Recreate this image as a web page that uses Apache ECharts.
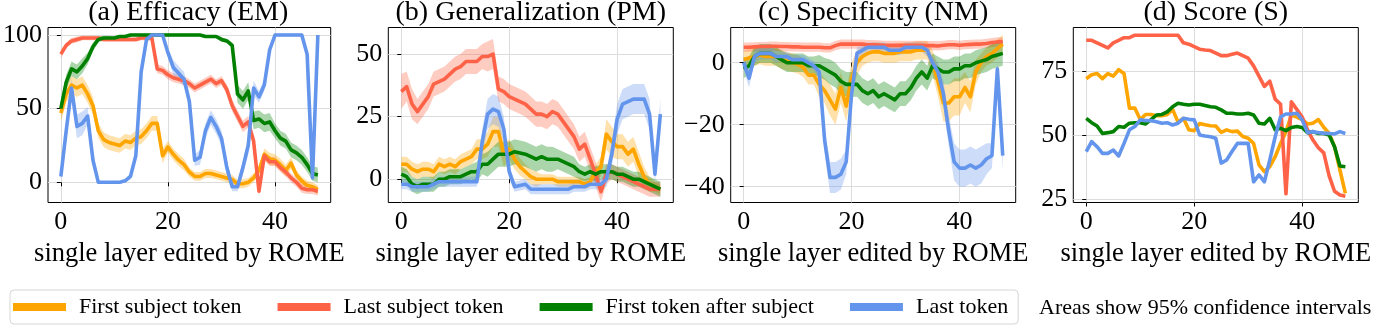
<!DOCTYPE html>
<html><head><meta charset="utf-8">
<script src="https://cdn.jsdelivr.net/npm/echarts@6/dist/echarts.min.js"></script>
<style>html,body{margin:0;padding:0;background:#fff}#c{width:1376px;height:328px}</style>
</head><body><div id="c"></div>
<script>
// ---- data ----
const layers = [0,1,2,3,4,5,6,7,8,9,10,11,12,13,14,15,16,17,18,19,20,21,22,23,24,25,26,27,28,29,30,31,32,33,34,35,36,37,38,39,40,41,42,43,44,45,46,47,48];
const seriesNames = ['First subject token','Last subject token','First token after subject','Last token'];
const panelTitles = ['(a) Efficacy (EM)','(b) Generalization (PM)','(c) Specificity (NM)','(d) Score (S)'];
const xTicks = [0,20,40];
const yTicksA = [0,50,100];
const yTicksB = [0,25,50];
const yTicksC = [-40,-20,0];
const yTicksD = [25,50,75];

// (a) Efficacy
const effOrange = [47,60,66,64,66,60,52,35,29,27,26,25,28,27,30,31,35,40,40,18,24,19,15,12,7,4,4,6,6,5,4,3,2,-1,-1,0,3,8,19,16,15,12,8,13,5,1,-2,-3,-5];
const effRed    = [87,93,96,97,98,98,98,98,97,97,97,97,97,97,97,98,98,98,77,76,73,71,70,69,67,64,66,68,70,67,69,63,52,45,38,41,28,-6,18,14,14,10,7,3,0,-4,-5,-5,-6];
const effGreen  = [50,68,77,75,79,84,92,97,98,98,98,99,99,100,100,100,100,100,100,100,100,100,100,100,100,100,100,99,99,99,97,96,93,60,56,62,42,43,40,41,35,30,28,22,20,17,12,6,5];
const effBlue   = [4,35,64,38,40,45,15,0,0,0,0,0,1,4,18,75,97,100,100,100,88,78,74,70,55,15,17,35,44,38,30,10,-3,-3,10,25,64,58,66,90,100,100,100,100,100,100,87,3,100];
const effOrangeCI = [6,6,6,6,6,6,6,5,5,5,5,5,5,5,5,5,5,5,5,5,4,4,4,4,3,3,3,3,3,3,3,3,3,3,3,3,3,3,4,4,4,4,4,4,3,3,3,3,3];
const effRedCI    = [3,2,2,2,1.5,1.5,1.5,1.5,1.5,1.5,1.5,1.5,1.5,1.5,1.5,1.5,1.5,2,3,3,3,3,3,3,3,3,3,3,3,3,3,3.5,4,4,4,4,4,3,3,3,3,3,3,3,3,3,3,3,3];
const effGreenCI  = [5,5,5,5,5,4,3,2,1.5,1.5,1,1,1,1,1,1,1,1,1,1,1,1,1,1,1,1,1,1,1,1,1.5,1.5,2,6,6,6,6,6,6,6,5,5,5,5,5,5,5,5,5];
const effBlueCI   = [3,5,6,8,8,6,4,1,0.5,0.5,0.5,0.5,1,2,4,5,3,1,1,1,3,5,5,5,5,4,5,5,5,5,5,5,3,3,5,6,5,4,4,3,1,1,1,1,1,1,3,2,1];

// (b) Generalization
const genOrange = [6,6,4,3,4,4,3,6,5,6,5,7,8,9,12,12,14,19,19,10,12,8,5,3,1,0,0,0,0,-1,-1,-1,-1,-1,-2,-1,3,5,18,15,13,13,10,12,6,1,-2,-3,-4];
const genRed    = [35,37,30,27,30,33,38,39,40,42,44,45,47,47,47,49,49,50,36,35,33,32,31,30,28,26,26,25,27,26,23,20,17,12,14,8,2,-5,2,3,2,1,0,-1,-2,-3,-4,-4,-4];
const genGreen  = [2,1,-2,-3,-2,-2,-2,0,0,1,1,1,2,3,3,6,6,8,10,10,10,11,10.5,10,9,8,9,8,8,8,7,6,5,3,2,3,2,3,3,3,2,2,1,0,0,-1,-2,-3,-4];
const genBlue   = [-2,-2,-3,-3,-3,-3,-2,-1,-1,-1,-1,-1,-1,-1,-1,15,26,28,27,20,3,-3,-2.5,-2,-4,-4,-4,-4,-4,-4,-4,-4,-3,-3,-3,-2,-2,-2,0,10,24,30,31,32,32,32,26,2,26];
const genOrangeCI = [3,3,3,3,3,3,3,3,3,3,3,3,3,3,4,4,5,6,6,5,4,4,3.5,3,3,3,2,2,2,2,2,2,2,2,2,2,3,4,6,6,5,5,5,5,5,4,3,2,2];
const genRedCI    = [7,6,6,5,5,5,5,5,5,5,5,5,5,5,5,5,6,6,5,5,5,5,5,5,5,5,5,5,5,5,5,5,5,5,5,5,5,4,4,3,3,3,3,3,3,3,3,3,3];
const genGreenCI  = [3,3,3,3,3,3,3,3,3,3,3,3,3,3,4,4,5,5,5,5,5,5,5,5,5,5,5,5,5,4,4,4,4,3,3,3,3,3,3,3,3,3,3,3,3,3,3,3,3];
const genBlueCI   = [2,2,2,2,2,2,2,2,2,2,2,2,2,2,2,5,6,6,6,5,3,2,2,2,2,2,2,2,2,2,2,2,2,2,2,2,2,2,3,5,6,6,6,6,6,6,6,3,6];

// (c) Specificity
const specOrange = [1,1.5,2,2.5,2,2,2,1,0.5,0,-0.5,-1.5,-4,-4,-7,-9,-12,-15,-8,-14,-5,0,2,3,3.5,3.5,3,3,3,3.5,3.5,3.5,4,4,4,0,-6,-13,-13,-11,-11,-8,-11,-3,0,2,3,4.5,6];
const specRed    = [5.0,5.0,5.1,5.2,5.2,5.3,5.3,5.2,5.2,5.1,5.1,5.0,5.0,5.0,5.0,4.8,4.8,5.5,6.0,6.0,6.0,6.0,6.0,5.8,5.8,5.7,5.6,5.6,5.6,5.6,5.6,5.6,5.6,5.6,5.5,5.5,5.4,5.6,5.8,5.8,5.6,5.8,5.9,6.0,6.0,6.2,6.5,6.7,6.8];
const specGreen  = [-2,-1,2,3,3,3,2,1,0,0,0,0,-1,-1,-1,-2,-3,-4,-6,-7,-7,-7,-9,-10,-9,-11,-10,-11,-12,-10,-10,-8,-5,-3,-5,-1,-2,-3,-3,-2,-2,-1,-1,0,0.5,1,2,2.5,3];
const specBlue   = [0,-5,2,3,3,3,2,2,2,1,1,1,0,-1,-3,-25,-37,-37,-36,-32,-10,3,4,5,5,5,5,4,4,4,5,5,5,5,4,0,-3,-10,-22,-32,-34,-34,-33,-34,-33,-31,-30,-2,-30];
const specOrangeCI = [3,3,3,3,3,3,3,3,3,3,3,3,3,3,4,4,5,5,5,5,5,4,3,3,3,3,3,3,3,3,3,3,3,3,3,4,5,6,6,6,6,5,5,4,3,3,3,3,3];
const specRedCI    = [1.5,1.5,1.5,1.5,1.5,1.5,1.5,1.5,1.5,1.5,1.5,1.5,1.5,1.5,1.5,1.5,1.5,1.5,1.5,1.5,1.5,1.5,1.5,1.5,1.5,1.5,1.5,1.5,1.5,1.5,1.5,1.5,1.5,1.5,1.5,1.5,1.5,1.5,1.5,1.5,1.5,1.5,1.5,1.5,1.5,1.5,1.5,1.5,1.5];
const specGreenCI  = [3,3,3,3,3,3,3,3,3,3,3,3,3,3,3.5,3.5,4,4,4,4,4,4,4,4,4,4,4,4,4,4,4,4,4,4,4,4,4,4,4,4,4,4,4,4,4,4,4,4,4];
const specBlueCI   = [2,3,2,2,2,2,2,1.5,1.5,1.5,1.5,1.5,1.5,1.5,2,4,5,5,5,4,3,2,1.5,1.5,1.5,1.5,1.5,1.5,1.5,1.5,1.5,1.5,1.5,1.5,2,2,3,4,5,6,6,6,6,6,6,5,4,2,5];

// (d) Score
const scoreOrange = [72,73.5,74,72,74,73,75.5,74,60.5,60.5,56,58,58,57.5,57.5,58,60,55,56.5,52,51.7,54.5,54,53.6,53.5,51,52,51.3,51.5,49.4,48.7,46.7,38.3,35.7,37.6,41.5,46.7,51.3,57.8,57,56,54.3,54.6,56,53,50.6,45.4,36.3,27.2];
const scoreRed    = [87,87,86,85,84,86,87,88,88,89,89,89,89,89,89,89,89,89,86,85.5,84.5,83.5,83.2,83,82,81,81,81.5,82,81,80,77,73,69,71,64,62,27,63,60,57,52,48,45,43,34,28,26.5,26];
const scoreGreen  = [56.5,54.8,53.5,50.6,50.9,51.3,53.3,53,54.6,54.8,54.8,54.3,56,57.8,58,59,61,62.4,62,61.7,62,62,61.5,61,60.8,59.8,58.5,58.5,58.2,58.2,58.5,57.8,54.6,54.3,56.5,52,52.6,51.7,52.9,53.3,52.9,50.9,51.3,50.6,50.6,50,45.4,37.9,37.6];
const scoreBlue   = [43.5,47.4,45.4,42.8,42.8,44.1,41.8,46.7,52,53.3,55.9,55.6,55.6,55.2,54.6,54.8,53.9,54.6,56.5,56.1,55.9,50,49.6,49.3,48.7,39,40.2,43.5,46.7,46.7,46.7,31.7,34.4,31.7,40.2,49.3,57.1,58.2,58.2,58.5,55.9,50.9,51.3,50.9,50.6,50.6,50.4,51.3,50.6];

// ---- styling / layout ----
const FONT = '"Liberation Serif","Times New Roman",serif';
const COLORS = ['#FFA500','#FF6347','#008000','#6495ED'];
const GRID_LEFT = [45.7, 388.3, 730.7, 1073.3];
const GRID_TOP = 27.5, GRID_W = 285, GRID_H = 175;
const X_RANGE = [-2.4, 50.4];

const panels = [
  {vals:[effOrange,effRed,effGreen,effBlue], ci:[effOrangeCI,effRedCI,effGreenCI,effBlueCI], y:[-13.7,105.1], ticks:yTicksA},
  {vals:[genOrange,genRed,genGreen,genBlue], ci:[genOrangeCI,genRedCI,genGreenCI,genBlueCI], y:[-9.3,60.6], ticks:yTicksB},
  {vals:[specOrange,specRed,specGreen,specBlue], ci:[specOrangeCI,specRedCI,specGreenCI,specBlueCI], y:[-45.1,11.35], ticks:yTicksC},
  {vals:[scoreOrange,scoreRed,scoreGreen,scoreBlue], ci:null, y:[23.6,92.0], ticks:yTicksD}
];

const fmtNum = v => String(v).replace('-', '\u2212');
const tickStyle = {fontFamily: FONT, fontSize: 26, color: '#000'};

function bandRenderer(color, rows) {
  return function (params, api) {
    if (params.dataIndex !== 0) return null;
    const up = [], lo = [];
    for (let j = 0; j < rows.length; j++) {
      up.push(api.coord([rows[j][0], rows[j][2]]));
      lo.push(api.coord([rows[j][0], rows[j][1]]));
    }
    return {type: 'polygon', shape: {points: up.concat(lo.reverse())},
      style: {fill: color, opacity: 0.33}, silent: true};
  };
}

const grid = [], xAxis = [], yAxis = [], series = [], graphic = [];
panels.forEach((p, i) => {
  grid.push({left: GRID_LEFT[i], top: GRID_TOP, width: GRID_W, height: GRID_H, show: true,
    borderColor: '#000', borderWidth: 1, backgroundColor: 'transparent', containLabel: false});
  xAxis.push({type: 'value', gridIndex: i, min: X_RANGE[0], max: X_RANGE[1],
    splitNumber: 3, minInterval: 20, maxInterval: 20,
    axisLine: {show: false},
    axisTick: {show: true, length: 4, lineStyle: {color: '#000', width: 1}, customValues: xTicks},
    axisLabel: Object.assign({margin: 7, customValues: xTicks,
      formatter: v => (xTicks.indexOf(v) >= 0 ? fmtNum(v) : '')}, tickStyle),
    splitLine: {show: true, lineStyle: {color: '#dcdcdc', width: 1}},
    name: 'single layer edited by ROME', nameLocation: 'middle', nameGap: 33,
    nameTextStyle: {fontFamily: FONT, fontSize: 26.5, color: '#000'}
  });
  yAxis.push({type: 'value', gridIndex: i, min: p.y[0], max: p.y[1],
    axisLine: {show: false},
    axisTick: {show: true, length: 4, lineStyle: {color: '#000', width: 1}, customValues: p.ticks},
    axisLabel: Object.assign({margin: 6, customValues: p.ticks,
      formatter: v => (p.ticks.indexOf(v) >= 0 ? fmtNum(v) : '')}, tickStyle),
    splitLine: {show: true, lineStyle: {color: '#dcdcdc', width: 1}}
  });
  if (p.ci) {
    p.vals.forEach((vals, k) => {
      const ci = p.ci[k];
      const rows = layers.map((x, j) => [x, vals[j] - ci[j], vals[j] + ci[j]]);
      series.push({type: 'custom', name: 'ci-' + i + '-' + k, xAxisIndex: i, yAxisIndex: i,
        silent: true, z: 1, clip: true, encode: {x: 0, y: [1, 2]},
        renderItem: bandRenderer(COLORS[k], rows), data: rows});
    });
  }
  p.vals.forEach((vals, k) => {
    series.push({type: 'line', name: seriesNames[k], xAxisIndex: i, yAxisIndex: i,
      symbol: 'none', showSymbol: false, silent: true, z: 3 + k,
      color: COLORS[k], itemStyle: {color: COLORS[k]},
      lineStyle: {color: COLORS[k], width: 3.6, join: 'round', cap: 'butt'},
      data: layers.map((x, j) => [x, vals[j]])});
  });
  graphic.push({type: 'text', x: GRID_LEFT[i] + GRID_W / 2, y: 13, silent: true,
    style: {text: panelTitles[i], fontFamily: FONT, fontSize: 28, fill: '#000',
      align: 'center', verticalAlign: 'middle', textAlign: 'center', textVerticalAlign: 'middle'}});
});

graphic.push({type: 'text', x: 1039, y: 308, silent: true,
  style: {text: 'Areas show 95% confidence intervals', fontFamily: FONT, fontSize: 22, fill: '#000',
    align: 'left', verticalAlign: 'middle', textAlign: 'left', textVerticalAlign: 'middle'}});

const chart = echarts.init(document.getElementById('c'), null, {renderer: 'canvas', width: 1376, height: 328});
chart.setOption({
  animation: false,
  backgroundColor: '#fff',
  grid, xAxis, yAxis, series, graphic,
  legend: {
    data: seriesNames, left: 10, top: 290, orient: 'horizontal', selectedMode: false,
    icon: 'rect', itemWidth: 53, itemHeight: 8, itemGap: 36,
    padding: [6, 10, 6, 3], borderColor: '#d6d6d6', borderWidth: 1, borderRadius: 4,
    backgroundColor: '#fff',
    textStyle: {fontFamily: FONT, fontSize: 22, color: '#000', padding: [0, 0, 0, 8]}
  }
});
</script></body></html>
